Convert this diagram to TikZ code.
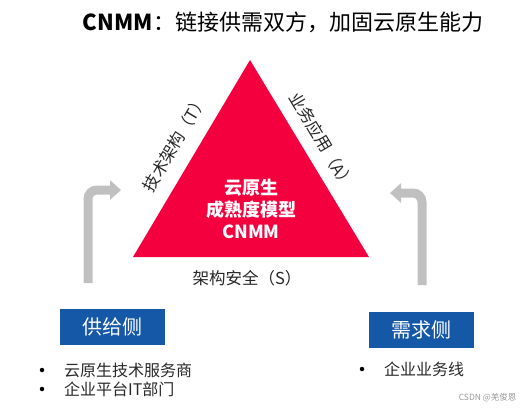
\documentclass[tikz,border=0pt]{standalone}
\usepackage{fontspec}
\setmainfont{Noto Sans CJK SC}
\usepackage{tikz}
\usetikzlibrary{arrows.meta,positioning}
\definecolor{cnmmred}{RGB}{245,0,62}
\definecolor{sideblue}{RGB}{22,88,168}
\definecolor{flowgray}{RGB}{192,192,192}
\definecolor{itemtext}{RGB}{40,40,40}

\begin{document}
\begin{tikzpicture}[
  x=1pt, y=-1pt,
  node distance=4pt and 6pt,
  title/.style={font=\fontsize{22}{26}\selectfont, text=black},
  core/.style={font=\fontsize{18}{22}\selectfont\bfseries, text=white, align=center},
  edgelabel/.style={font=\fontsize{16.5}{20}\selectfont, text=black!85},
  sidebox/.style={rectangle, fill=sideblue, text=white, minimum height=36pt, minimum width=105pt, font=\fontsize{20}{24}\selectfont},
  bullet/.style={circle, fill=black, inner sep=0pt, minimum size=4.5pt},
  item/.style={font=\fontsize{16}{19}\selectfont, text=itemtext, anchor=west, inner sep=0pt},
  flow/.style={line width=9pt, flowgray, rounded corners=9pt, -{Triangle[width=19pt,length=11pt]}}
]
\useasboundingbox (0,0) rectangle (524,410);

% Title
\node[title] (head) at (283,22) {\textbf{CNMM}：链接供需双方，加固云原生能力};

% Triangle
\coordinate (apex) at (250,60);
\coordinate (baseL) at (133,257);
\coordinate (baseR) at (369,257);
\fill[cnmmred] (apex) -- (baseL) -- (baseR) -- cycle;
\node[core] (model) at (251,209) {云原生\\成熟度模型\\CNMM};

% Edge labels
\node[edgelabel, rotate=59.3] (tech) at (175,143) {技术架构（T）};
\node[edgelabel, rotate=-59.3] (app) at (322,141) {业务应用（A）};
\node[edgelabel] (safe) at (247,278) {架构安全（S）};

% Supply and demand sides
\node[sidebox] (supply) at (112,327) {供给侧};
\node[sidebox] (demand) at (421,330) {需求侧};

% Side arrows
\coordinate (supplyfoot) at (88,283);
\coordinate (supplytip) at (121,190);
\coordinate (demandfoot) at (422,285);
\coordinate (demandtip) at (390,193);
\draw[flow] (supplyfoot) |- (supplytip);
\draw[flow] (demandfoot) |- (demandtip);

% Supply items
\node[bullet] (sb1) at (42,370) {};
\node[item] (si1) at (64,370) {云原生技术服务商};
\node[bullet] (sb2) at (42,389) {};
\node[item] (si2) at (64,389) {企业平台IT部门};

% Demand items
\node[bullet] (db1) at (362,369) {};
\node[item] (di1) at (384,369) {企业业务线};

% Watermark
\node[font=\fontsize{8.5}{10}\selectfont, text=black!40, anchor=east] (mark) at (520,398) {CSDN @羌俊恩};

\end{tikzpicture}
\end{document}
